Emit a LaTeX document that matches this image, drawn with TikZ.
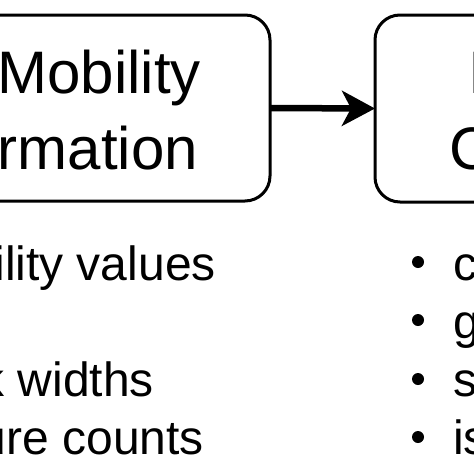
\documentclass[tikz,border=0pt]{standalone}
\usepackage{fontspec}
\setmainfont{Liberation Sans}
\usetikzlibrary{arrows.meta}
\tikzset{
  box/.style={draw=black, line width=3pt, rounded corners=25pt, inner sep=0pt, outer sep=0pt},
  boxtext/.style={inner sep=0pt, font=\fontsize{60}{72}\selectfont},
  listtext/.style={inner sep=0pt, font=\fontsize{48}{58}\selectfont},
  dot/.style={circle, fill=black, inner sep=0pt, minimum size=12pt},
  flow/.style={line width=6.5pt, -{Stealth[length=33pt, width=35pt, inset=9pt]}}
}
\begin{document}
\begin{tikzpicture}[x=1pt, y=-1pt]
\useasboundingbox (0,0) rectangle (474,474);
\clip (0,0) rectangle (474,474);
\fill[white] (0,0) rectangle (474,474);
% boxes
\node[box, minimum width=520pt, minimum height=186pt] (lbox) at (10,108) {};
\node[box, minimum width=525pt, minimum height=187pt] (rbox) at (637.5,108.5) {};
% box texts
\node[boxtext, anchor=base east] (l1) at (201,93) {Mobility};
\node[boxtext, anchor=base east] (l2) at (198,169) {Information};
\node[boxtext, anchor=base west] (r1) at (468,93) {I};
\node[boxtext, anchor=base west] (r2) at (449,169) {C};
% arrow
\draw[flow] (lbox.east) -- (rbox.west);
% left list
\node[listtext, anchor=base east] (a1) at (216,280) {Mobility values};
\node[listtext, anchor=base east] (a3) at (154,396) {Peak widths};
\node[listtext, anchor=base east] (a4) at (204,454) {Feature counts};
% right list
\node[dot] (d1) at (418,262) {};
\node[dot] (d2) at (418,320) {};
\node[dot] (d3) at (418,379) {};
\node[dot] (d4) at (418,437) {};
\node[listtext, anchor=base west] (b1) at (453,280) {c};
\node[listtext, anchor=base west] (b2) at (453,338) {g};
\node[listtext, anchor=base west] (b3) at (453,396) {s};
\node[listtext, anchor=base west] (b4) at (453,454) {is};
\end{tikzpicture}
\end{document}
